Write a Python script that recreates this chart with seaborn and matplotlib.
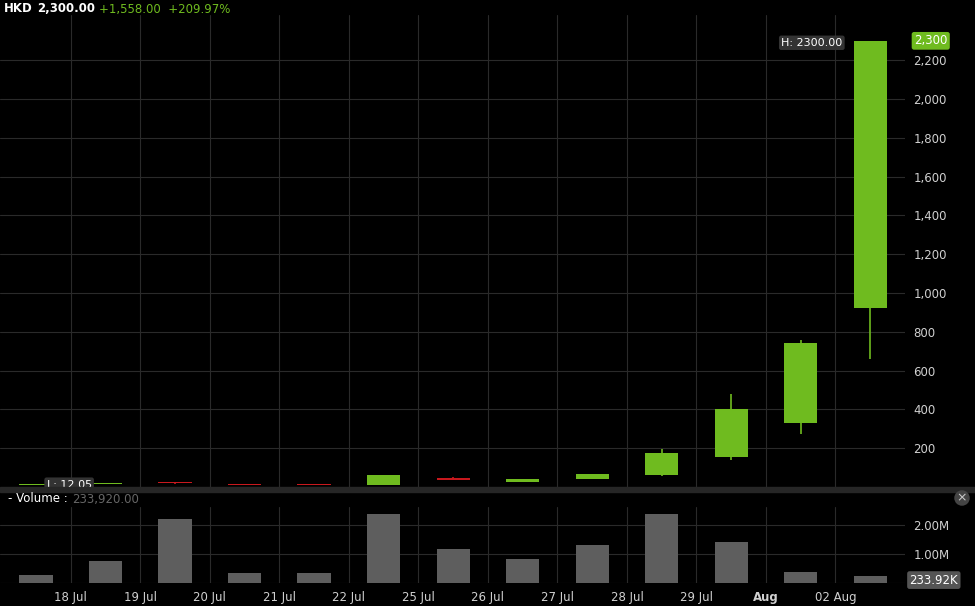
import matplotlib
matplotlib.use("Agg")
import matplotlib.pyplot as plt
import seaborn as sns
import pandas as pd
import numpy as np

sns.set_theme(style="dark")
plt.rcParams['font.family'] = ['DejaVu Sans']

opens  = [12.05, 18, 26, 16, 14, 10, 48, 26, 42, 60, 155, 330, 925]
closes = [16, 20, 20, 12, 12, 60, 36, 40, 65, 175, 400, 740, 2300]
highs  = [16, 21, 27, 16, 14, 62, 50, 42, 68, 195, 480, 760, 2300]
lows   = [12.05, 17, 18, 11, 11, 8, 34, 24, 40, 58, 140, 275, 660]
volume = [0.28e6, 0.76e6, 2.2e6, 0.34e6, 0.34e6, 2.35e6, 1.17e6, 0.83e6, 1.31e6, 2.35e6, 1.41e6, 0.38e6, 0.23392e6]
xlabels = ["18 Jul", "19 Jul", "20 Jul", "21 Jul", "22 Jul", "25 Jul", "26 Jul", "27 Jul",
           "28 Jul", "29 Jul", "Aug", "02 Aug"]

GREEN = "#6fbb1f"
RED = "#c8181d"
BG = "#000000"
GRID = "#2a2a2a"
TXT = "#d0d0d0"

fig = plt.figure(figsize=(9.75, 6.06), dpi=100, facecolor=BG)
W, H = 975, 606
axp = fig.add_axes([0, (H - 487) / H, 905 / W, 472 / H], facecolor=BG)
axv = fig.add_axes([0, (H - 583) / H, 905 / W, 76 / H], facecolor=BG, sharex=axp)

n = len(opens)
x = np.arange(n)
df = pd.DataFrame({"x": x, "volume": volume})

for i in range(n):
    c = GREEN if closes[i] >= opens[i] else RED
    lo, hi = sorted([opens[i], closes[i]])
    axp.vlines(x[i], lows[i], highs[i], color=c, lw=1.2, zorder=3)
    axp.bar(x[i], max(hi - lo, 3), bottom=lo, width=0.48, color=c, edgecolor=c, linewidth=0, zorder=4)

sns.barplot(data=df, x="x", y="volume", ax=axv, native_scale=True, color="#5e5e5e",
            width=0.48, saturation=1, edgecolor="none", linewidth=0, zorder=3)

axp.set_xlim(-0.52, n - 0.5)
axp.set_ylim(0, (484.6 - 15) / 0.193)
axv.set_ylim(0, 2.6e6)

ticks = np.arange(n - 1) + 0.5
for ax in (axp, axv):
    ax.set_xticks(ticks)
    ax.grid(True, color=GRID, lw=0.8)
    ax.yaxis.tick_right()
    for s in ax.spines.values():
        s.set_visible(False)
    ax.tick_params(colors=TXT, labelsize=8.5, length=0, pad=6)
    ax.set_xlabel(""); ax.set_ylabel("")
axp.tick_params(labelbottom=False)
axp.set_yticks(np.arange(200, 2201, 200))
axp.set_yticklabels([f"{v:,}" for v in range(200, 2201, 200)])
axv.set_yticks([0, 1e6, 2e6])
axv.set_yticklabels(["0", "1.00M", "2.00M"])
axv.set_xticklabels(xlabels)
for lab in axv.get_xticklabels():
    if lab.get_text() == "Aug":
        lab.set_fontweight("bold")

fig.patches.append(plt.Rectangle((0, (H - 492) / H), 1, 5 / H, transform=fig.transFigure,
                                 color="#262626", zorder=0))

fig.text(4 / W, 1 - 9 / H, "HKD", color="white", fontsize=8.5, fontweight="bold", va="center")
fig.text(37 / W, 1 - 9 / H, "2,300.00", color="white", fontsize=8.5, fontweight="bold", va="center")
fig.text(99 / W, 1 - 9 / H, "+1,558.00  +209.97%", color=GREEN, fontsize=8.5, va="center")
fig.text(8 / W, 1 - 499 / H, "- Volume :", color="white", fontsize=8.5, va="center")
fig.text(72 / W, 1 - 499 / H, "233,920.00", color="#666666", fontsize=8.5, va="center")

axp.text(n - 1 - 0.4, 2300 - 10, "H: 2300.00", color="white", fontsize=8, ha="right", va="center",
         bbox=dict(boxstyle="round,pad=0.2", fc="#333333", ec="none"), zorder=6)
axp.text(0.15, 12.05, "L: 12.05", color="white", fontsize=8, ha="left", va="center",
         bbox=dict(boxstyle="round,pad=0.2", fc="#333333", ec="none"), zorder=6)
axp.text(1.01, 2300, "2,300", transform=axp.get_yaxis_transform(), color="white", fontsize=8.5,
         ha="left", va="center", bbox=dict(boxstyle="round,pad=0.2", fc=GREEN, ec="none"))
axv.text(1.005, 0.1e6, "233.92K", transform=axv.get_yaxis_transform(), color="white", fontsize=8.5,
         ha="left", va="center", bbox=dict(boxstyle="round,pad=0.2", fc="#555555", ec="none"), zorder=7)
fig.text(962 / W, 1 - 498 / H, "×", color="#cccccc", fontsize=9, ha="center", va="center",
         bbox=dict(boxstyle="circle,pad=0.1", fc="#444444", ec="none"))

fig.savefig("out.png", dpi=100, facecolor=BG)
